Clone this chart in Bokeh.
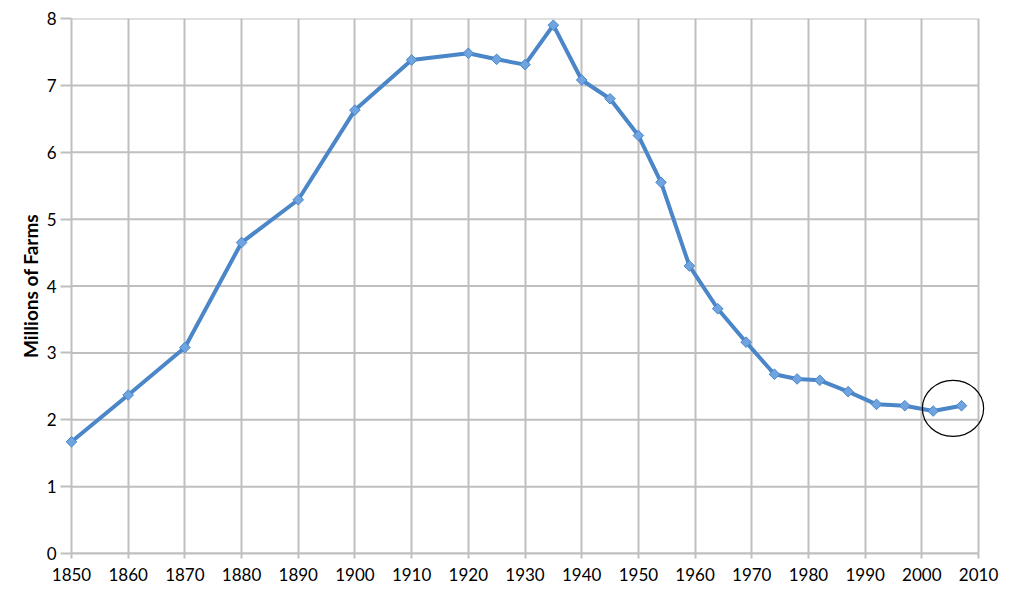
import math
from bokeh.plotting import figure
from bokeh.embed import file_html
from bokeh.resources import INLINE
from bokeh.models import Range1d, FixedTicker

# ---- data ----
years = [1850, 1860, 1870, 1880, 1890, 1900, 1910, 1920, 1925, 1930, 1935,
         1940, 1945, 1950, 1954, 1959, 1964, 1969, 1974, 1978, 1982, 1987,
         1992, 1997, 2002, 2007]
farms_millions = [1.67, 2.37, 3.08, 4.65, 5.29, 6.63, 7.38, 7.48, 7.39, 7.31, 7.90,
                  7.08, 6.80, 6.25, 5.55, 4.30, 3.66, 3.16, 2.68, 2.61, 2.59, 2.42,
                  2.23, 2.21, 2.13, 2.21]
x_ticks = list(range(1850, 2011, 10))
y_ticks = [0, 1, 2, 3, 4, 5, 6, 7, 8]
y_label = "Millions of Farms"

# highlighted (circled) recent census points
circled_years = [2002, 2007]

FONT = "Lato"
GRID = "#bfbfbf"
LINE = "#4a86c8"

x0, x1 = x_ticks[0], x_ticks[-1]
pad_r = (x1 - x0) * 0.011   # room so the annotation circle is not clipped
pad_l = (x1 - x0) * 0.0066  # room so the first marker is not clipped

p = figure(width=1004, height=589, output_backend="svg", toolbar_location=None,
           x_range=Range1d(x0 - pad_l, x1 + pad_r), y_range=Range1d(0, 8),
           min_border_left=65, min_border_top=18, min_border_right=16,
           min_border_bottom=36)
p.outline_line_color = None
p.background_fill_color = "white"
p.border_fill_color = "white"

p.xaxis.ticker = FixedTicker(ticks=x_ticks)
p.yaxis.ticker = FixedTicker(ticks=y_ticks)
p.xaxis.bounds = (x0, x1)
for ax in (p.xaxis, p.yaxis):
    ax.axis_line_color = GRID
    ax.axis_line_width = 2
    ax.major_tick_line_color = GRID
    ax.major_tick_line_width = 2
    ax.major_tick_out = 5
    ax.major_tick_in = 0
    ax.minor_tick_line_color = None
    ax.major_label_text_font = FONT
    ax.major_label_text_font_size = "17px"
    ax.major_label_text_color = "black"
# y axis sits at the frame edge; the 1850 gridline acts as the axis line
p.yaxis.axis_line_color = None
p.yaxis.major_tick_in = 6
p.xaxis.major_label_standoff = 9
p.yaxis.major_label_standoff = 4

p.yaxis.axis_label = y_label
p.yaxis.axis_label_text_font = FONT
p.yaxis.axis_label_text_font_style = "bold"
p.yaxis.axis_label_text_font_size = "19px"
p.yaxis.axis_label_text_color = "black"
p.yaxis.axis_label_standoff = 2

p.xgrid.grid_line_color = GRID
p.xgrid.grid_line_width = 2
p.ygrid.grid_line_color = None
# horizontal gridlines limited to the 1850-2010 span
p.segment(x0=[x0] * len(y_ticks), y0=y_ticks, x1=[x1] * len(y_ticks), y1=y_ticks,
          line_color=GRID, line_width=2)

p.line(years, farms_millions, line_color=LINE, line_width=4)
p.scatter(years, farms_millions, marker="square", angle=math.pi / 4, size=7.5,
          fill_color="#6fa4e0", line_color=LINE, line_width=1)

# circle annotation around last two points
cx = sum(circled_years) / len(circled_years) + 1
idx = [years.index(y) for y in circled_years]
cy = sum(farms_millions[i] for i in idx) / len(idx)
p.ellipse(x=[cx], y=[cy], width=10.8, height=0.84,
          fill_color=None, line_color="black", line_width=1.2)

open("out.html", "w").write(file_html(p, INLINE))
